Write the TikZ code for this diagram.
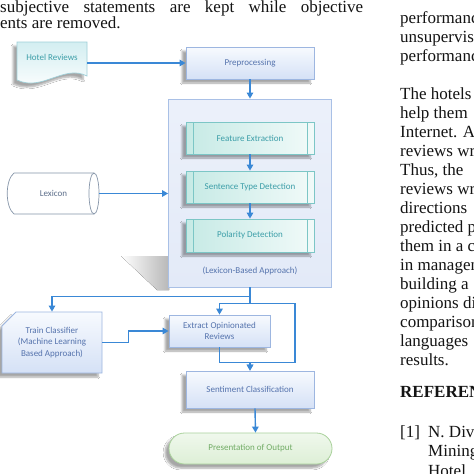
\documentclass[tikz,border=0pt]{standalone}
\usepackage{fontspec}
\setmainfont{Liberation Serif}
\newfontfamily\diafont{Carlito}
\usetikzlibrary{shadows.blur,shapes.misc,arrows.meta,calc}
\definecolor{arrowblue}{HTML}{3A88D6}
\definecolor{boxborder}{HTML}{9DB6E0}
\definecolor{boxlight}{HTML}{F7FAFE}
\definecolor{boxdark}{HTML}{D5E1F6}
\definecolor{textblue}{HTML}{5573AD}
\definecolor{tealtext}{HTML}{3C9EA8}
\definecolor{tealborder}{HTML}{7CC6C6}
\definecolor{teallight}{HTML}{F1FAF9}
\definecolor{tealdark}{HTML}{C6EAE5}
\definecolor{greenborder}{HTML}{A9D19B}
\definecolor{greenfill}{HTML}{DDEFD6}
\definecolor{greentext}{HTML}{72AC66}
\definecolor{bigfill}{HTML}{E3EAF8}
\definecolor{bigborder}{HTML}{A9C0E6}
\definecolor{lexborder}{HTML}{8594A8}
\definecolor{lextext}{HTML}{5C6E8A}
\definecolor{papertxt}{HTML}{141414}
\definecolor{docborder}{HTML}{9FCFD8}
\definecolor{docfill}{HTML}{D3EEF1}
\begin{document}
\begin{tikzpicture}[x=1pt,y=-1pt,
  every node/.style={inner sep=0pt, font=\diafont\fontsize{9}{11.5}\selectfont},
  shadowed/.style={blur shadow={shadow xshift=-4pt, shadow yshift=-4pt, shadow blur steps=6, shadow opacity=35}},
  procbox/.style={draw=boxborder, line width=0.8pt, top color=boxlight, bottom color=boxdark, text=textblue, align=center, shadowed},
  tealbox/.style={draw=tealborder, line width=0.8pt, left color=tealdark, right color=teallight, text=tealtext, minimum width=128pt, minimum height=32pt, shadowed,
    path picture={\draw[tealborder, line width=0.8pt] ([xshift=7pt]path picture bounding box.north west) -- ([xshift=7pt]path picture bounding box.south west);
                  \draw[tealborder, line width=0.8pt] ([xshift=-7pt]path picture bounding box.north east) -- ([xshift=-7pt]path picture bounding box.south east);}},
  flow/.style={draw=arrowblue, line width=1.4pt, -{Triangle[length=6pt,width=6.5pt]}},
  papertext/.style={font=\fontsize{17}{19}\selectfont, text=papertxt, anchor=base west}
]
\useasboundingbox (0,0) rectangle (474,474);
\fill[white] (0,0) rectangle (474,474);
\clip (0,0) rectangle (474,474);

% paper text, left column
\node[papertext] (l1) at (0,12.5) {\makebox[363pt][s]{subjective statements are kept while objective}};
\node[papertext] (l2) at (0,28) {ents are removed.};

% paper text, right column
\foreach \yy/\tt [count=\i] in {23/performance, 42/unsupervised, 61/performance,
  99/{The hotels in}, 118/{help them}, 137/{Internet. As}, 156/{reviews writ}, 175/{Thus, the},
  194/{reviews writ}, 213/{directions}, 232/{predicted pe}, 251/{them in a co}, 270/{in managem},
  289/{building a}, 308/{opinions di}, 327/{comparison}, 346/{languages}, 365/{results.}}
  \node[papertext] (r\i) at (400,\yy) {\tt};
\node[papertext, font=\bfseries\fontsize{17}{19}\selectfont] (refs) at (400,397) {REFERENCES};
\node[papertext] (ref1) at (400,437) {[1]};
\node[papertext] (ref1a) at (428,437) {N. Divya};
\node[papertext] (ref1b) at (428,456) {Mining};
\node[papertext] (ref1c) at (428,476) {Hotel};

% big box shadow
\fill[left color=white, right color=black!28] (121,256) -- (169,256) -- (169,290) -- (157,290) -- cycle;

% big lexicon-based box
\node[draw=bigborder, line width=0.8pt, top color=bigfill!70, bottom color=bigfill, minimum width=163pt, minimum height=188pt] (big) at (250,193) {};

% hotel reviews document
\path[draw=docborder, line width=0.7pt, top color=docfill, bottom color=white, shadowed]
  (17,42) -- (87,42) -- (87,76) .. controls (64,64) and (42,92) .. (17,80) -- cycle;
\node[text=tealtext, minimum width=70pt, minimum height=30pt] (hr) at (52,57) {Hotel Reviews};

% lexicon cylinder
\draw[lexborder, line width=0.7pt] (94,173) -- (14,173) .. controls (5,180) and (5,207) .. (14,214) -- (94,214);
\draw[lexborder, line width=0.7pt] (94,193.5) ellipse [x radius=5, y radius=20.5];
\node[text=lextext, minimum width=91pt, minimum height=41pt] (lex) at (53.5,193.5) {Lexicon};

% process boxes
\node[procbox, minimum width=128pt, minimum height=32pt] (pre) at (250,63) {Preprocessing};
\node[tealbox] (fe) at (250,138) {Feature Extraction};
\node[tealbox] (std) at (250,187) {Sentence Type Detection};
\node[tealbox, minimum height=33pt] (pd) at (250,235.5) {Polarity Detection};
\node[text=textblue] (lba) at (250,271) {(Lexicon-Based Approach)};
\node[procbox, chamfered rectangle, chamfered rectangle corners=north west, chamfered rectangle xsep=7pt, chamfered rectangle ysep=7pt,
      minimum width=100pt, minimum height=61pt] (tc) at (52,342.5) {Train Classifier\\(Machine Learning\\Based Approach)};
\node[procbox, minimum width=101pt, minimum height=32pt] (eo) at (219.5,331) {Extract Opinionated\\Reviews};
\node[procbox, minimum width=128pt, minimum height=37pt] (sc) at (250,389.5) {Sentiment Classification};
\node[draw=greenborder, line width=0.8pt, top color=greenfill!45, bottom color=greenfill, rounded corners=15.5pt,
      minimum width=163pt, minimum height=31pt, text=greentext, shadowed] (po) at (250.5,448.5) {Presentation of Output};

% connectors
\draw[flow] (hr.east |- pre.west) -- (pre.west);
\draw[flow] (pre.south) -- (big.north);
\draw[flow] (fe.south) -- (std.north);
\draw[flow] (std.south) -- (pd.north);
\draw[flow] (lex.east) -- (lex.east -| big.west);
\draw[flow] (big.south) -- ++(0,9) -| (tc.north);
\draw[flow] (big.south) -- ++(0,16) -| (eo.north);
\coordinate (m) at ($(sc.north)+(0,-8)$);
\draw[flow] (big.south) -- ++(0,16) -- ++(45,0) |- (m) -- (sc.north);
\draw[flow] (eo.south) |- (m) -- (sc.north);
\draw[flow] (tc.east) -- ++(26,0) |- (eo.west);
\draw[flow] ([xshift=5pt]sc.south) -- ([xshift=5pt]po.north);
\end{tikzpicture}
\end{document}
